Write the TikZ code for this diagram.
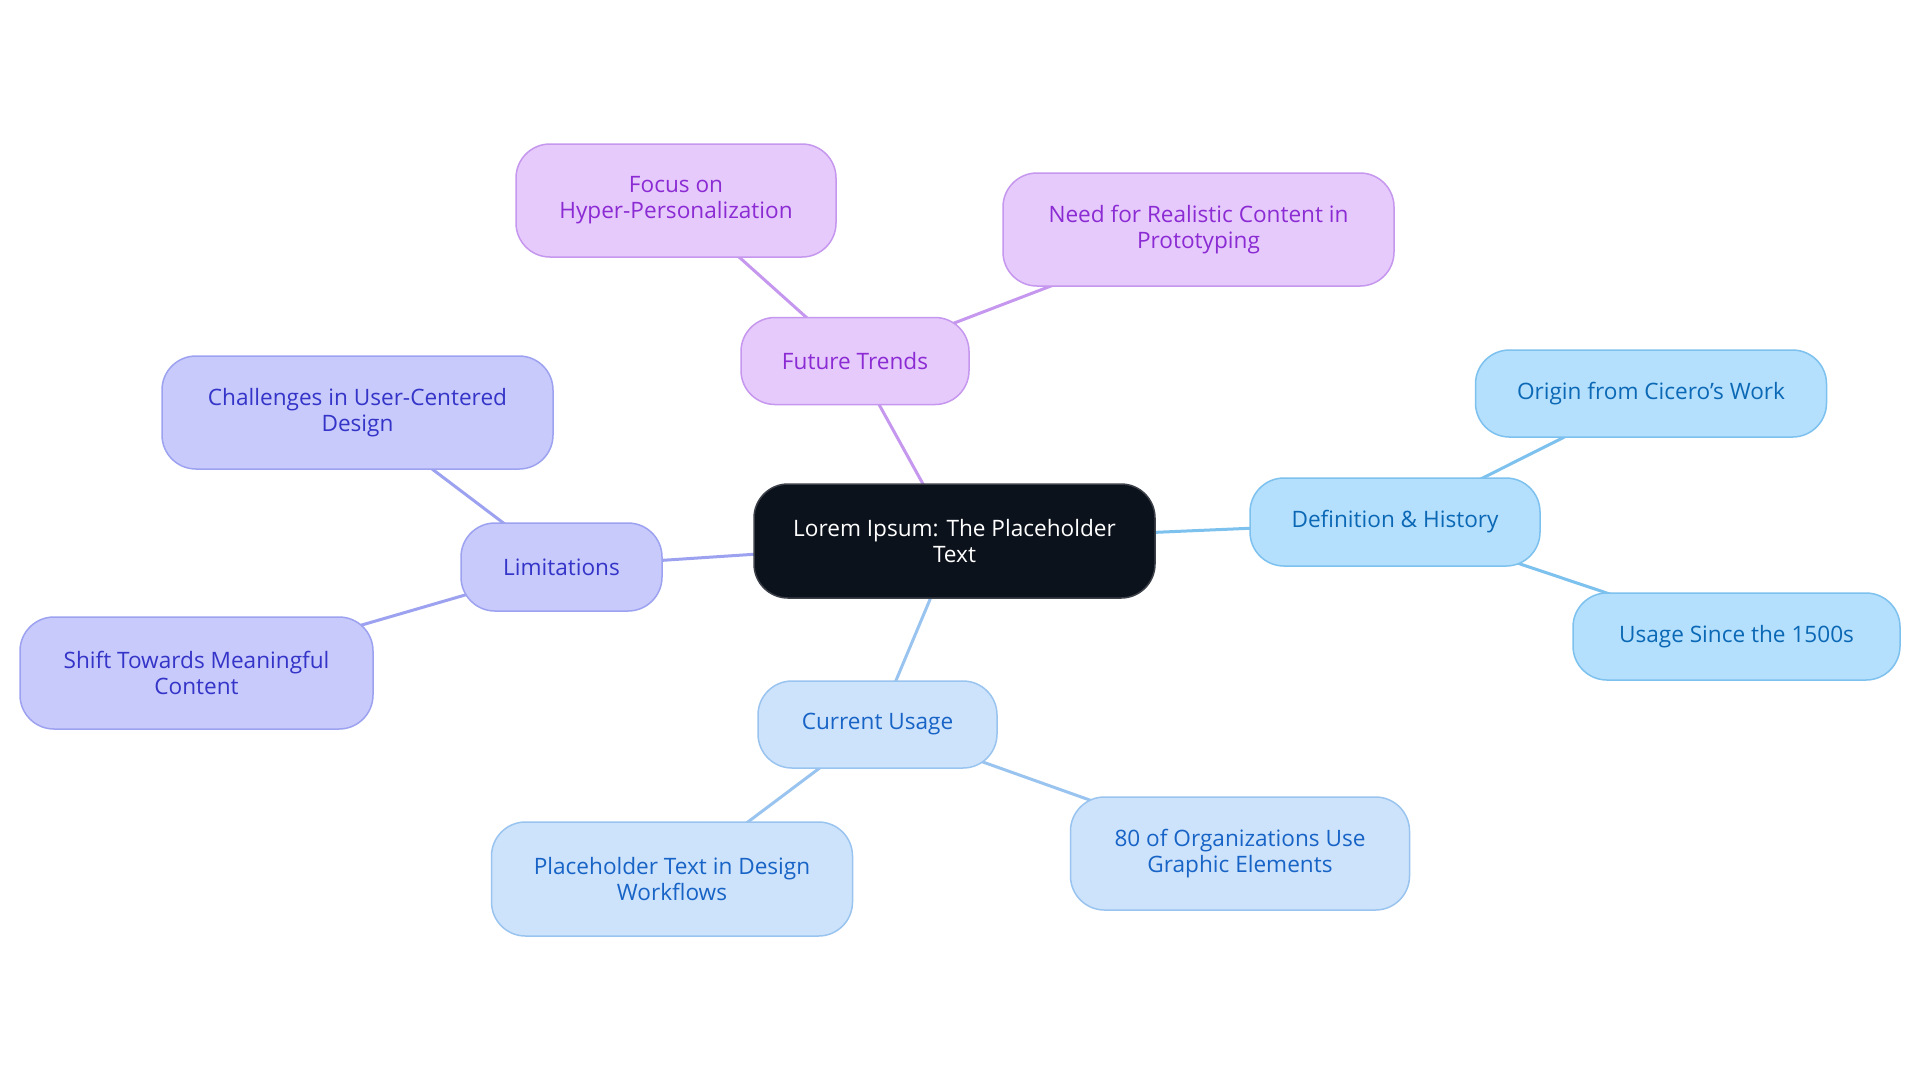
\documentclass[tikz,border=0pt]{standalone}
\usepackage{fontspec}
\setmainfont{Open Sans}
\usetikzlibrary{backgrounds}
\definecolor{purFill}{HTML}{E7CAFC}
\definecolor{purDraw}{HTML}{C597EE}
\definecolor{purText}{HTML}{8B2BD3}
\definecolor{indFill}{HTML}{C8CAFB}
\definecolor{indDraw}{HTML}{9DA2F0}
\definecolor{indText}{HTML}{3434C8}
\definecolor{skyFill}{HTML}{B4DFFD}
\definecolor{skyDraw}{HTML}{7DC1EE}
\definecolor{skyText}{HTML}{0B68B5}
\definecolor{palFill}{HTML}{CDE3FB}
\definecolor{palDraw}{HTML}{9AC4F0}
\definecolor{palText}{HTML}{1763C6}
\definecolor{rootFill}{HTML}{0C121C}
\definecolor{rootDraw}{HTML}{3C4048}
\tikzset{
  box/.style={rounded corners=17pt, line width=0.75pt, align=center, inner sep=2pt,
    font=\fontsize{11.3pt}{13pt}\selectfont},
  sz/.style 2 args={minimum width=#1*0.5pt, minimum height=#2*0.5pt},
  purbox/.style={box, fill=purFill, draw=purDraw, text=purText},
  indbox/.style={box, fill=indFill, draw=indDraw, text=indText},
  skybox/.style={box, fill=skyFill, draw=skyDraw, text=skyText},
  palbox/.style={box, fill=palFill, draw=palDraw, text=palText},
  rootbox/.style={box, fill=rootFill, draw=rootDraw, text=white},
  link/.style={line width=1.5pt},
}
\begin{document}
\begin{tikzpicture}[x=0.5pt,y=-0.5pt]
\useasboundingbox (0,0) rectangle (1920,1083);
\node[rootbox, sz={401}{114}] (root) at (954.5,541) {Lorem Ipsum: The Placeholder\\Text};
\node[skybox, sz={290}{88}] (def) at (1395,522) {Definition \& History};
\node[skybox, sz={351}{87}] (origin) at (1651,393.5) {Origin from Cicero's Work};
\node[skybox, sz={327}{87}] (usage) at (1736.5,636.5) {Usage Since the 1500s};
\node[palbox, sz={239}{87}] (cur) at (877.5,724.5) {Current Usage};
\node[palbox, sz={361}{114}] (place) at (672,879) {Placeholder Text in Design\\Workflows};
\node[palbox, sz={339}{113}] (eighty) at (1240,853.5) {80 of Organizations Use\\Graphic Elements};
\node[indbox, sz={201}{88}] (lim) at (561.5,567) {Limitations};
\node[indbox, sz={391}{113}] (chal) at (357.5,412.5) {Challenges in User-Centered\\Design};
\node[indbox, sz={353}{112}] (shift) at (196.5,673) {Shift Towards Meaningful\\Content};
\node[purbox, sz={228}{87}] (fut) at (855,361) {Future Trends};
\node[purbox, sz={320}{113}] (focus) at (676,200.5) {Focus on\\Hyper-Personalization};
\node[purbox, sz={391}{113}] (need) at (1198.5,229.5) {Need for Realistic Content in\\Prototyping};
\begin{scope}[on background layer]
\fill[white] (0,0) rectangle (1920,1083);
\draw[link, skyDraw] (root.center) -- (def.center);
\draw[link, skyDraw] (def.center) -- (origin.center);
\draw[link, skyDraw] (def.center) -- (usage.center);
\draw[link, palDraw] (root.center) -- (cur.center);
\draw[link, palDraw] (cur.center) -- (place.center);
\draw[link, palDraw] (cur.center) -- (eighty.center);
\draw[link, indDraw] (root.center) -- (lim.center);
\draw[link, indDraw] (lim.center) -- (chal.center);
\draw[link, indDraw] (lim.center) -- (shift.center);
\draw[link, purDraw] (root.center) -- (fut.center);
\draw[link, purDraw] (fut.center) -- (focus.center);
\draw[link, purDraw] (fut.center) -- (need.center);
\end{scope}
\end{tikzpicture}
\end{document}
